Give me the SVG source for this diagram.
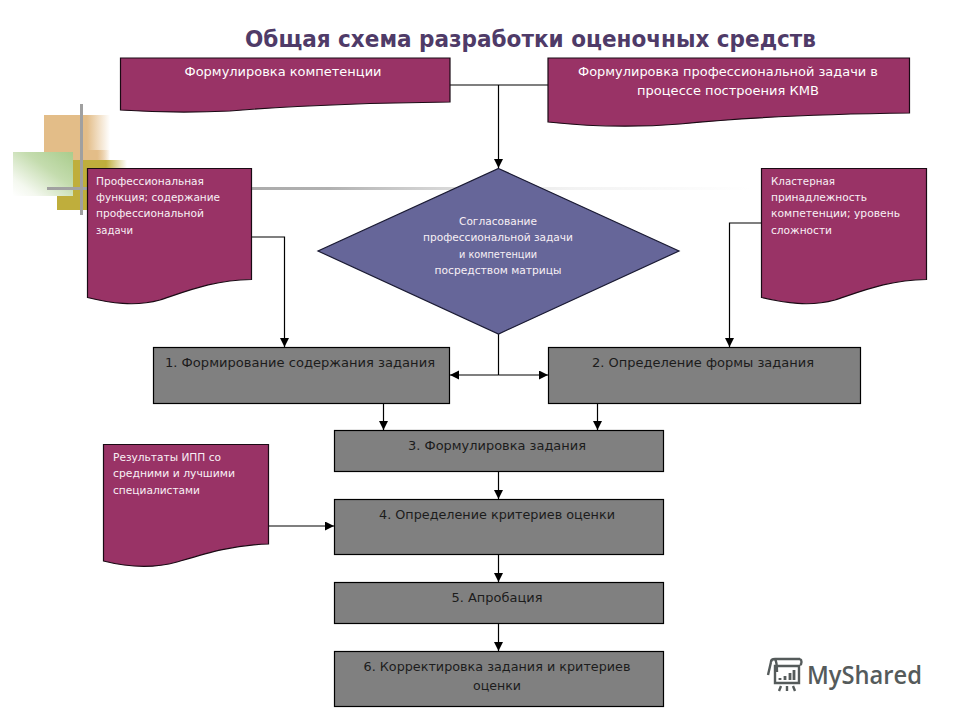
<svg xmlns="http://www.w3.org/2000/svg" width="960" height="720" viewBox="0 0 960 720">
<style>
text{font-family:"DejaVu Sans","Noto Sans",sans-serif}
.doc{fill:#993366;stroke:#1a0a14;stroke-width:1.2}
.box{fill:#808080;stroke:#000;stroke-width:1.2}
.w{fill:#fff;font-size:11.5px}
.ws{fill:#f8f0f5;font-size:10.2px}
.d{fill:#1c1c1c;font-size:12.2px}
.c{fill:none;stroke:#000;stroke-width:1.2}
.m{text-anchor:middle}
</style>
<defs>
<marker id="a" markerUnits="userSpaceOnUse" markerWidth="10" markerHeight="10" refX="9" refY="4.5" orient="auto"><path d="M0 0L9 4.500L0 9z" fill="#000"/></marker>
<linearGradient id="tan" x1="0" x2="1" y1="0" y2="0"><stop offset="0" stop-color="#e3bd88"/><stop offset=".65" stop-color="#e3bd88"/><stop offset="1" stop-color="#e3bd88" stop-opacity="0"/></linearGradient>
<linearGradient id="ol" x1="0" x2="1" y1="0" y2="0"><stop offset="0" stop-color="#bfae3c"/><stop offset=".7" stop-color="#bfae3c"/><stop offset="1" stop-color="#bfae3c" stop-opacity="0"/></linearGradient>
<linearGradient id="gr" x1="1" x2="0" y1="0" y2="1"><stop offset="0" stop-color="#a9cc8c"/><stop offset=".4" stop-color="#c4dcae"/><stop offset=".8" stop-color="#f4f8ef"/><stop offset="1" stop-color="#fff"/></linearGradient>
<linearGradient id="ln" x1="0" x2="1" y1="0" y2="0"><stop offset="0" stop-color="#a0a0a0"/><stop offset=".4" stop-color="#b0b0b0"/><stop offset=".75" stop-color="#e0e0e0" stop-opacity=".4"/><stop offset="1" stop-color="#e0e0e0" stop-opacity="0"/></linearGradient>
</defs>
<rect width="960" height="720" fill="#fff"/>
<g id="decor">
<rect x="44" y="115" width="66" height="45" fill="url(#tan)"/>
<rect x="73" y="150" width="37" height="12" fill="url(#tan)"/>
<rect x="57" y="160" width="70" height="50" fill="url(#ol)"/>
<rect x="13" y="152" width="60" height="44" fill="url(#gr)"/>
<rect x="47" y="187" width="703" height="3" fill="url(#ln)"/>
<rect x="80" y="104" width="3" height="111" fill="#a0a0a0"/>
</g>
<text x="245" y="47" font-size="23" font-weight="700" fill="#4f3b68" textLength="571" lengthAdjust="spacingAndGlyphs">Общая схема разработки оценочных средств</text>
<g id="connectors">
<path class="c" d="M450 85H548"/>
<path class="c" d="M498.500 85V168" marker-end="url(#a)"/>
<path class="c" d="M252 237H284.500V347" marker-end="url(#a)"/>
<path class="c" d="M761 223H729.500V347" marker-end="url(#a)"/>
<path class="c" d="M498.500 334V375"/>
<path class="c" d="M498.500 375H450" marker-end="url(#a)"/>
<path class="c" d="M498.500 375H548" marker-end="url(#a)"/>
<path class="c" d="M383.500 403V430" marker-end="url(#a)"/>
<path class="c" d="M597.500 403V430" marker-end="url(#a)"/>
<path class="c" d="M498.500 472V499" marker-end="url(#a)"/>
<path class="c" d="M269 526H334" marker-end="url(#a)"/>
<path class="c" d="M498.500 554V582" marker-end="url(#a)"/>
<path class="c" d="M498.500 623V651" marker-end="url(#a)"/>
</g>
<g id="n-competence">
<path class="doc" d="M120.500 58H450V102C360 103 290 106 230 111C190 113 150 112 120.500 110Z"/>
<text class="w m" x="283" y="76" textLength="197" lengthAdjust="spacingAndGlyphs">Формулировка компетенции</text>
</g>
<g id="n-task">
<path class="doc" d="M548 58H909.500V113C820 114 740 118 680 124C630 128 585 126 548 122Z"/>
<text class="w m" x="728" y="76" textLength="300" lengthAdjust="spacingAndGlyphs">Формулировка профессиональной задачи в</text>
<text class="w m" x="728" y="95" textLength="182" lengthAdjust="spacingAndGlyphs">процессе построения КМВ</text>
</g>
<g id="n-function">
<path class="doc" d="M87.500 168.500H251.500V279.500C215 280 190 290 160 300C135 307 110 303 87.500 297.500Z"/>
<text class="ws" x="96" y="185" textLength="108" lengthAdjust="spacingAndGlyphs">Профессиональная</text>
<text class="ws" x="96" y="201" textLength="124" lengthAdjust="spacingAndGlyphs">функция; содержание</text>
<text class="ws" x="96" y="217" textLength="108" lengthAdjust="spacingAndGlyphs">профессиональной</text>
<text class="ws" x="96" y="234" textLength="37" lengthAdjust="spacingAndGlyphs">задачи</text>
</g>
<g id="n-cluster">
<path class="doc" d="M761.500 168.500H926.500V279.500C890 280 865 290 835 300C810 307 785 303 761.500 297.500Z"/>
<text class="ws" x="771" y="185" textLength="64" lengthAdjust="spacingAndGlyphs">Кластерная</text>
<text class="ws" x="771" y="201" textLength="96" lengthAdjust="spacingAndGlyphs">принадлежность</text>
<text class="ws" x="771" y="217" textLength="129" lengthAdjust="spacingAndGlyphs">компетенции; уровень</text>
<text class="ws" x="771" y="234" textLength="61" lengthAdjust="spacingAndGlyphs">сложности</text>
</g>
<g id="n-match">
<path d="M498.500 168.500L679 251L498.500 334L318 251Z" fill="#666699" stroke="#1a1a33" stroke-width="1.2"/>
<text class="ws m" x="498" y="225" textLength="78" lengthAdjust="spacingAndGlyphs">Согласование</text>
<text class="ws m" x="498" y="241" textLength="150" lengthAdjust="spacingAndGlyphs">профессиональной задачи</text>
<text class="ws m" x="498" y="258" textLength="78" lengthAdjust="spacingAndGlyphs">и компетенции</text>
<text class="ws m" x="498" y="274" textLength="127" lengthAdjust="spacingAndGlyphs">посредством матрицы</text>
</g>
<g id="n-1">
<rect class="box" x="153.500" y="347.500" width="296" height="56"/>
<text class="d m" x="300" y="367" textLength="270" lengthAdjust="spacingAndGlyphs">1. Формирование содержания задания</text>
</g>
<g id="n-2">
<rect class="box" x="548.500" y="347.500" width="312" height="56"/>
<text class="d m" x="703" y="367" textLength="222" lengthAdjust="spacingAndGlyphs">2. Определение формы задания</text>
</g>
<g id="n-3">
<rect class="box" x="334.500" y="430.500" width="329" height="41"/>
<text class="d m" x="497" y="450" textLength="178" lengthAdjust="spacingAndGlyphs">3. Формулировка задания</text>
</g>
<g id="n-ipp">
<path class="doc" d="M103.500 444.500H268.500V544C232 545 207 553 177 562C152 569 127 567 103.500 561Z"/>
<text class="ws" x="113" y="461" textLength="108" lengthAdjust="spacingAndGlyphs">Результаты ИПП со</text>
<text class="ws" x="113" y="477" textLength="122" lengthAdjust="spacingAndGlyphs">средними и лучшими</text>
<text class="ws" x="113" y="494" textLength="87" lengthAdjust="spacingAndGlyphs">специалистами</text>
</g>
<g id="n-4">
<rect class="box" x="334.500" y="499.500" width="329" height="55"/>
<text class="d m" x="497" y="519" textLength="236" lengthAdjust="spacingAndGlyphs">4. Определение критериев оценки</text>
</g>
<g id="n-5">
<rect class="box" x="334.500" y="582.500" width="329" height="41"/>
<text class="d m" x="497" y="602" textLength="91" lengthAdjust="spacingAndGlyphs">5. Апробация</text>
</g>
<g id="n-6">
<rect class="box" x="334.500" y="651.500" width="329" height="55"/>
<text class="d m" x="497" y="671" textLength="267" lengthAdjust="spacingAndGlyphs">6. Корректировка задания и критериев</text>
<text class="d m" x="497" y="690" textLength="48" lengthAdjust="spacingAndGlyphs">оценки</text>
</g>
<g id="logo" fill="none" stroke="#555b5b" stroke-width="2.400">
<path d="M771 662C771 660 773 659 775 659H800M775 659C777 662 777 668 777 672M768 675L771 662"/>
<path d="M775 666H799V683H775Z"/>
<path d="M800 659C802 660 802 664 800 665"/>
<path d="M781 686L779 691M787 686V691M793 686L795 691"/>
<path d="M780 680V678M785 680V676M790 680V673M794 680V670" stroke-width="2.800"/>
<text x="807" y="684" font-size="25" font-weight="600" stroke="none" fill="#555b5b" style="font-family:'Open Sans','Noto Sans',sans-serif" textLength="115" lengthAdjust="spacingAndGlyphs">MyShared</text>
</g>
</svg>
